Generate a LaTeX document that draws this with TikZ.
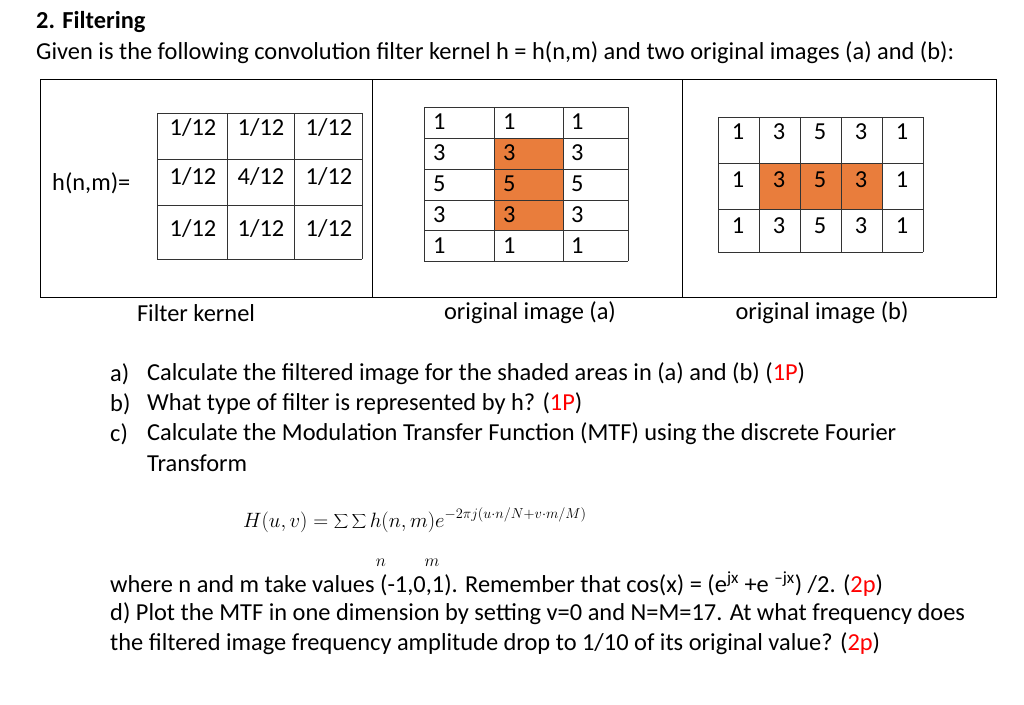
\documentclass[tikz,border=0pt]{standalone}
\usepackage{fontspec}
\setmainfont{Carlito}
\definecolor{org}{HTML}{E97D3C}
\begin{document}
\begin{tikzpicture}[x=1pt,y=-1pt,
  t/.style={font=\fontsize{24.4}{28}\selectfont,inner sep=0pt},
  cellb/.style={draw=black!80,line width=0.8pt}]
\useasboundingbox (0,0) rectangle (1024,704);
\node[t,anchor=west,font=\fontsize{24.4}{28}\selectfont\bfseries] (title) at (36,22) {2. Filtering};
\node[t,anchor=west] (intro) at (36,53) {Given is the following convolution filter kernel h = h(n,m) and two original images (a) and (b):};
% outer box
\draw[line width=0.9pt] (40,79) rectangle (996,297);
\draw[line width=0.9pt] (372,79) -- (372,297) (682,79) -- (682,297);
% kernel
\node[t,anchor=west] (hlab) at (52,183) {h(n,m)=};
\foreach \x in {157,227,294,362}{\draw[cellb] (\x,113)--(\x,259);}
\foreach \y in {113,159,205,259}{\draw[cellb] (157,\y)--(362,\y);}
\foreach \y/\a/\b/\c in {128/1\slash12/1\slash12/1\slash12,177/1\slash12/4\slash12/1\slash12,229/1\slash12/1\slash12/1\slash12}{
  \node[t] at (193,\y) {\a}; \node[t] at (261,\y) {\b}; \node[t] at (329,\y) {\c};}
% image a
\fill[org] (494,138) rectangle (563,230);
\foreach \x in {424,494,563,628}{\draw[cellb] (\x,107)--(\x,261);}
\foreach \y in {107,138,169,200,230,261}{\draw[cellb] (424,\y)--(628,\y);}
\foreach \y/\v in {122/1,153/3,184/5,215/3,246/1}{
  \node[t,anchor=west] at (433,\y) {\v};\node[t,anchor=west] at (503,\y) {\v};\node[t,anchor=west] at (571,\y) {\v};}
% image b
\fill[org] (759,163) rectangle (882,209);
\foreach \x in {718,759,800,841,882,923}{\draw[cellb] (\x,117)--(\x,252);}
\foreach \y in {117,163,209,252}{\draw[cellb] (718,\y)--(923,\y);}
\foreach \y in {132,180,226}{
  \foreach \x/\v in {738/1,779/3,820/5,861/3,902/1}{\node[t] at (\x,\y) {\v};}}
% labels
\node[t] (l1) at (196,313) {Filter kernel};
\node[t] (l2) at (530,313) {original image (a)};
\node[t] (l3) at (822,313) {original image (b)};
% list
\node[t,anchor=west] at (110,374) {a)};
\node[t,anchor=west] at (147,374) {Calculate the filtered image for the shaded areas in (a) and (b) (\textcolor{red}{1P})};
\node[t,anchor=west] at (110,404) {b)};
\node[t,anchor=west] at (147,404) {What type of filter is represented by h? (\textcolor{red}{1P})};
\node[t,anchor=west] at (110,434) {c)};
\node[t,anchor=west] at (147,434) {Calculate the Modulation Transfer Function (MTF) using the discrete Fourier};
\node[t,anchor=west] at (147,463) {Transform};
% formula
\node[inner sep=0pt,font=\fontsize{22}{26}\selectfont,anchor=west] (eq) at (243,520) {$\displaystyle H(u,v)=\sum\nolimits\sum\nolimits h(n,m)e^{-2\pi j(u\cdot n/N+v\cdot m/M)}$};
\node[inner sep=0pt,font=\fontsize{17}{20}\selectfont] at (381,563) {$n$};
\node[inner sep=0pt,font=\fontsize{17}{20}\selectfont] at (432,563) {$m$};
\node[t,anchor=west] at (110,584) {where n and m take values (-1,0,1). Remember that cos(x) = (e\textsuperscript{jx} +e \textsuperscript{--jx}) /2. (\textcolor{red}{2p})};
\node[t,anchor=west] at (110,614) {d) Plot the MTF in one dimension by setting v=0 and N=M=17. At what frequency does};
\node[t,anchor=west] at (110,644) {the filtered image frequency amplitude drop to 1/10 of its original value? (\textcolor{red}{2p})};
\end{tikzpicture}
\end{document}
